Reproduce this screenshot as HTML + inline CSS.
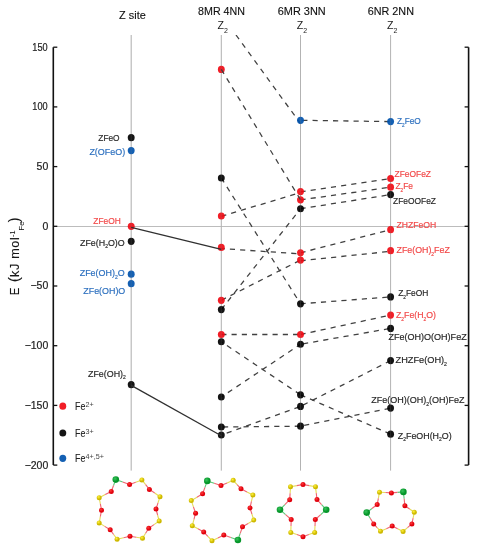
<!DOCTYPE html>
<html><head><meta charset="utf-8"><style>
html,body{margin:0;padding:0;background:#fff;}
body{width:480px;height:550px;overflow:hidden;}
svg{display:block;font-family:"Liberation Sans",Arial,sans-serif;}
</style></head><body>
<svg width="480" height="550" viewBox="0 0 480 550"><defs><clipPath id="pc"><rect x="0" y="35" width="480" height="436"/></clipPath><radialGradient id="gY" cx="0.38" cy="0.35" r="0.75"><stop offset="0" stop-color="#fff23a"/><stop offset="0.6" stop-color="#cdb800"/><stop offset="1" stop-color="#cdb800"/></radialGradient><radialGradient id="gR" cx="0.38" cy="0.35" r="0.75"><stop offset="0" stop-color="#ff3a3a"/><stop offset="0.6" stop-color="#e0000c"/><stop offset="1" stop-color="#e0000c"/></radialGradient><radialGradient id="gG" cx="0.38" cy="0.35" r="0.75"><stop offset="0" stop-color="#38c45c"/><stop offset="0.6" stop-color="#06962a"/><stop offset="1" stop-color="#06962a"/></radialGradient></defs><rect width="480" height="550" fill="#fff"/><line x1="53.3" y1="226.5" x2="468.6" y2="226.5" stroke="#bcbcbc" stroke-width="1"/><line x1="131.2" y1="35" x2="131.2" y2="470.6" stroke="#bcbcbc" stroke-width="1"/><line x1="221.3" y1="35" x2="221.3" y2="470.6" stroke="#bcbcbc" stroke-width="1"/><line x1="300.5" y1="35" x2="300.5" y2="470.6" stroke="#bcbcbc" stroke-width="1"/><line x1="390.6" y1="35" x2="390.6" y2="470.6" stroke="#bcbcbc" stroke-width="1"/><path d="M53.3 47.20 V465.10" stroke="#111" stroke-width="1.6" fill="none"/><path d="M468.6 47.20 V465.10" stroke="#111" stroke-width="1.6" fill="none"/><line x1="53.3" y1="47.20" x2="57.3" y2="47.20" stroke="#111" stroke-width="1.3"/><line x1="464.6" y1="47.20" x2="468.6" y2="47.20" stroke="#111" stroke-width="1.3"/><text x="47.6" y="50.65" text-anchor="end" font-size="10.5" fill="#222" stroke="#222" stroke-width="0.2" textLength="15.3" lengthAdjust="spacingAndGlyphs">150</text><line x1="53.3" y1="106.90" x2="57.3" y2="106.90" stroke="#111" stroke-width="1.3"/><line x1="464.6" y1="106.90" x2="468.6" y2="106.90" stroke="#111" stroke-width="1.3"/><text x="47.6" y="110.35" text-anchor="end" font-size="10.5" fill="#222" stroke="#222" stroke-width="0.2" textLength="15.3" lengthAdjust="spacingAndGlyphs">100</text><line x1="53.3" y1="166.60" x2="57.3" y2="166.60" stroke="#111" stroke-width="1.3"/><line x1="464.6" y1="166.60" x2="468.6" y2="166.60" stroke="#111" stroke-width="1.3"/><text x="48.3" y="170.05" text-anchor="end" font-size="10.5" fill="#222" stroke="#222" stroke-width="0.2">50</text><line x1="53.3" y1="226.30" x2="57.3" y2="226.30" stroke="#111" stroke-width="1.3"/><line x1="464.6" y1="226.30" x2="468.6" y2="226.30" stroke="#111" stroke-width="1.3"/><text x="48.3" y="229.75" text-anchor="end" font-size="10.5" fill="#222" stroke="#222" stroke-width="0.2">0</text><line x1="53.3" y1="286.00" x2="57.3" y2="286.00" stroke="#111" stroke-width="1.3"/><line x1="464.6" y1="286.00" x2="468.6" y2="286.00" stroke="#111" stroke-width="1.3"/><text x="48.3" y="289.45" text-anchor="end" font-size="10.5" fill="#222" stroke="#222" stroke-width="0.2">−50</text><line x1="53.3" y1="345.70" x2="57.3" y2="345.70" stroke="#111" stroke-width="1.3"/><line x1="464.6" y1="345.70" x2="468.6" y2="345.70" stroke="#111" stroke-width="1.3"/><text x="48.3" y="349.15" text-anchor="end" font-size="10.5" fill="#222" stroke="#222" stroke-width="0.2">−100</text><line x1="53.3" y1="405.40" x2="57.3" y2="405.40" stroke="#111" stroke-width="1.3"/><line x1="464.6" y1="405.40" x2="468.6" y2="405.40" stroke="#111" stroke-width="1.3"/><text x="48.3" y="408.85" text-anchor="end" font-size="10.5" fill="#222" stroke="#222" stroke-width="0.2">−150</text><line x1="53.3" y1="465.10" x2="57.3" y2="465.10" stroke="#111" stroke-width="1.3"/><line x1="464.6" y1="465.10" x2="468.6" y2="465.10" stroke="#111" stroke-width="1.3"/><text x="48.3" y="468.55" text-anchor="end" font-size="10.5" fill="#222" stroke="#222" stroke-width="0.2">−200</text><g clip-path="url(#pc)" stroke="#404040" stroke-width="1.25" fill="none"><g transform="scale(1,1.035)"><line x1="221.3" y1="14.348" x2="300.5" y2="119.420" stroke-dasharray="5.15 5.1" stroke-dashoffset="6.4"/><line x1="221.3" y1="171.981" x2="300.5" y2="293.527" stroke-dasharray="5.15 5.1" stroke-dashoffset="0"/><line x1="221.3" y1="208.986" x2="300.5" y2="186.087" stroke-dasharray="5.15 5.1" stroke-dashoffset="0"/><line x1="221.3" y1="240.097" x2="300.5" y2="245.314" stroke-dasharray="5.15 5.1" stroke-dashoffset="1.65"/><line x1="221.3" y1="290.145" x2="300.5" y2="251.304" stroke-dasharray="5.15 5.1" stroke-dashoffset="0"/><line x1="221.3" y1="299.130" x2="300.5" y2="201.691" stroke-dasharray="5.15 5.1" stroke-dashoffset="0"/><line x1="221.3" y1="323.188" x2="300.5" y2="323.188" stroke-dasharray="5.15 5.1" stroke-dashoffset="0"/><line x1="221.3" y1="330.193" x2="300.5" y2="381.449" stroke-dasharray="5.15 5.1" stroke-dashoffset="3.5"/><line x1="221.3" y1="383.575" x2="300.5" y2="332.609" stroke-dasharray="5.15 5.1" stroke-dashoffset="2.45"/><line x1="221.3" y1="412.560" x2="300.5" y2="411.787" stroke-dasharray="5.15 5.1" stroke-dashoffset="8.55"/><line x1="221.3" y1="420.290" x2="300.5" y2="392.657" stroke-dasharray="5.15 5.1" stroke-dashoffset="4.55"/><line x1="300.5" y1="116.232" x2="390.6" y2="117.488" stroke-dasharray="5.15 5.1" stroke-dashoffset="8.45"/><line x1="300.5" y1="185.314" x2="390.6" y2="172.464" stroke-dasharray="5.15 5.1" stroke-dashoffset="0"/><line x1="300.5" y1="193.140" x2="390.6" y2="180.870" stroke-dasharray="5.15 5.1" stroke-dashoffset="0"/><line x1="300.5" y1="201.691" x2="390.6" y2="188.019" stroke-dasharray="5.15 5.1" stroke-dashoffset="0"/><line x1="300.5" y1="244.251" x2="390.6" y2="221.932" stroke-dasharray="5.15 5.1" stroke-dashoffset="0"/><line x1="300.5" y1="251.981" x2="390.6" y2="242.802" stroke-dasharray="5.15 5.1" stroke-dashoffset="0"/><line x1="300.5" y1="293.527" x2="390.6" y2="286.860" stroke-dasharray="5.15 5.1" stroke-dashoffset="0"/><line x1="300.5" y1="323.188" x2="390.6" y2="304.444" stroke-dasharray="5.15 5.1" stroke-dashoffset="0"/><line x1="300.5" y1="332.609" x2="390.6" y2="317.295" stroke-dasharray="5.15 5.1" stroke-dashoffset="7.65"/><line x1="300.5" y1="381.449" x2="390.6" y2="419.517" stroke-dasharray="5.15 5.1" stroke-dashoffset="0"/><line x1="300.5" y1="392.657" x2="390.6" y2="348.406" stroke-dasharray="5.15 5.1" stroke-dashoffset="7.45"/><line x1="300.5" y1="411.787" x2="390.6" y2="394.300" stroke-dasharray="5.15 5.1" stroke-dashoffset="6.55"/></g></g><ellipse cx="131.2" cy="137.7" rx="3.45" ry="3.6" fill="#000000" fill-opacity="0.92"/><ellipse cx="131.2" cy="150.6" rx="3.45" ry="3.6" fill="#0052ad" fill-opacity="0.92"/><ellipse cx="131.2" cy="226.3" rx="3.45" ry="3.6" fill="#f00a14" fill-opacity="0.92"/><ellipse cx="131.2" cy="241.3" rx="3.45" ry="3.6" fill="#000000" fill-opacity="0.92"/><ellipse cx="131.2" cy="274.2" rx="3.45" ry="3.6" fill="#0052ad" fill-opacity="0.92"/><ellipse cx="131.2" cy="283.7" rx="3.45" ry="3.6" fill="#0052ad" fill-opacity="0.92"/><ellipse cx="131.2" cy="384.7" rx="3.45" ry="3.6" fill="#000000" fill-opacity="0.92"/><ellipse cx="221.3" cy="69.4" rx="3.45" ry="3.6" fill="#f00a14" fill-opacity="0.92"/><ellipse cx="221.3" cy="178" rx="3.45" ry="3.6" fill="#000000" fill-opacity="0.92"/><ellipse cx="221.3" cy="216" rx="3.45" ry="3.6" fill="#f00a14" fill-opacity="0.92"/><ellipse cx="221.3" cy="247.4" rx="3.45" ry="3.6" fill="#f00a14" fill-opacity="0.92"/><ellipse cx="221.3" cy="300.3" rx="3.45" ry="3.6" fill="#f00a14" fill-opacity="0.92"/><ellipse cx="221.3" cy="309.6" rx="3.45" ry="3.6" fill="#000000" fill-opacity="0.92"/><ellipse cx="221.3" cy="334.5" rx="3.45" ry="3.6" fill="#f00a14" fill-opacity="0.92"/><ellipse cx="221.3" cy="341.75" rx="3.45" ry="3.6" fill="#000000" fill-opacity="0.92"/><ellipse cx="221.3" cy="397" rx="3.45" ry="3.6" fill="#000000" fill-opacity="0.92"/><ellipse cx="221.3" cy="427" rx="3.45" ry="3.6" fill="#000000" fill-opacity="0.92"/><ellipse cx="221.3" cy="435" rx="3.45" ry="3.6" fill="#000000" fill-opacity="0.92"/><ellipse cx="300.5" cy="120.3" rx="3.45" ry="3.6" fill="#0052ad" fill-opacity="0.92"/><ellipse cx="300.5" cy="191.6" rx="3.45" ry="3.6" fill="#f00a14" fill-opacity="0.92"/><ellipse cx="300.5" cy="199.8" rx="3.45" ry="3.6" fill="#f00a14" fill-opacity="0.92"/><ellipse cx="300.5" cy="208.75" rx="3.45" ry="3.6" fill="#000000" fill-opacity="0.92"/><ellipse cx="300.5" cy="252.8" rx="3.45" ry="3.6" fill="#f00a14" fill-opacity="0.92"/><ellipse cx="300.5" cy="260.1" rx="3.45" ry="3.6" fill="#f00a14" fill-opacity="0.92"/><ellipse cx="300.5" cy="303.8" rx="3.45" ry="3.6" fill="#000000" fill-opacity="0.92"/><ellipse cx="300.5" cy="334.5" rx="3.45" ry="3.6" fill="#f00a14" fill-opacity="0.92"/><ellipse cx="300.5" cy="344.25" rx="3.45" ry="3.6" fill="#000000" fill-opacity="0.92"/><ellipse cx="300.5" cy="394.8" rx="3.45" ry="3.6" fill="#000000" fill-opacity="0.92"/><ellipse cx="300.5" cy="406.4" rx="3.45" ry="3.6" fill="#000000" fill-opacity="0.92"/><ellipse cx="300.5" cy="426.2" rx="3.45" ry="3.6" fill="#000000" fill-opacity="0.92"/><ellipse cx="390.6" cy="121.6" rx="3.45" ry="3.6" fill="#0052ad" fill-opacity="0.92"/><ellipse cx="390.6" cy="178.5" rx="3.45" ry="3.6" fill="#f00a14" fill-opacity="0.92"/><ellipse cx="390.6" cy="187.2" rx="3.45" ry="3.6" fill="#f00a14" fill-opacity="0.92"/><ellipse cx="390.6" cy="194.6" rx="3.45" ry="3.6" fill="#000000" fill-opacity="0.92"/><ellipse cx="390.6" cy="229.7" rx="3.45" ry="3.6" fill="#f00a14" fill-opacity="0.92"/><ellipse cx="390.6" cy="250.7" rx="3.45" ry="3.6" fill="#f00a14" fill-opacity="0.92"/><ellipse cx="390.6" cy="296.9" rx="3.45" ry="3.6" fill="#000000" fill-opacity="0.92"/><ellipse cx="390.6" cy="315.1" rx="3.45" ry="3.6" fill="#f00a14" fill-opacity="0.92"/><ellipse cx="390.6" cy="328.4" rx="3.45" ry="3.6" fill="#000000" fill-opacity="0.92"/><ellipse cx="390.6" cy="360.6" rx="3.45" ry="3.6" fill="#000000" fill-opacity="0.92"/><ellipse cx="390.6" cy="408.1" rx="3.45" ry="3.6" fill="#000000" fill-opacity="0.92"/><ellipse cx="390.6" cy="434.2" rx="3.45" ry="3.6" fill="#000000" fill-opacity="0.92"/><line x1="131.2" y1="35" x2="131.2" y2="470.6" stroke="#909090" stroke-width="0.8" opacity="0.25"/><line x1="221.3" y1="35" x2="221.3" y2="470.6" stroke="#909090" stroke-width="0.8" opacity="0.25"/><line x1="300.5" y1="35" x2="300.5" y2="470.6" stroke="#909090" stroke-width="0.8" opacity="0.25"/><line x1="390.6" y1="35" x2="390.6" y2="470.6" stroke="#909090" stroke-width="0.8" opacity="0.25"/><g clip-path="url(#pc)" stroke="#404040" stroke-width="1.25" fill="none"><g transform="scale(1,1.035)"><line x1="221.3" y1="67.053" x2="300.5" y2="193.043" stroke-dasharray="5.15 5.1" stroke-dashoffset="0"/></g><line x1="131.2" y1="227.4" x2="221.3" y2="249.3" stroke="#303030"/><line x1="131.2" y1="385.4" x2="221.3" y2="435.7" stroke="#303030"/></g><text x="98.3" y="141.4" font-size="9.8" fill="#262626" stroke="#262626" stroke-width="0.18" textLength="21.3" lengthAdjust="spacingAndGlyphs"><tspan>ZFeO</tspan></text><text x="89.4" y="154.9" font-size="9.8" fill="#2a6ebe" stroke="#2a6ebe" stroke-width="0.18" textLength="35.8" lengthAdjust="spacingAndGlyphs"><tspan>Z(OFeO)</tspan></text><text x="93.3" y="224.2" font-size="9.8" fill="#f24646" stroke="#f24646" stroke-width="0.18" textLength="27.5" lengthAdjust="spacingAndGlyphs"><tspan>ZFeOH</tspan></text><text x="80.0" y="245.6" font-size="9.8" fill="#262626" stroke="#262626" stroke-width="0.18" textLength="44.7" lengthAdjust="spacingAndGlyphs"><tspan>ZFe(H</tspan><tspan dy="2.70" font-size="5.49">2</tspan><tspan dy="-2.70">O)O</tspan></text><text x="79.7" y="276.1" font-size="9.8" fill="#2a6ebe" stroke="#2a6ebe" stroke-width="0.18" textLength="45.0" lengthAdjust="spacingAndGlyphs"><tspan>ZFe(OH)</tspan><tspan dy="2.70" font-size="5.49">2</tspan><tspan dy="-2.70">O</tspan></text><text x="83.3" y="293.85" font-size="9.8" fill="#2a6ebe" stroke="#2a6ebe" stroke-width="0.18" textLength="42.0" lengthAdjust="spacingAndGlyphs"><tspan>ZFe(OH)O</tspan></text><text x="88.0" y="376.75" font-size="9.8" fill="#262626" stroke="#262626" stroke-width="0.18" textLength="37.8" lengthAdjust="spacingAndGlyphs"><tspan>ZFe(OH)</tspan><tspan dy="2.70" font-size="5.49">2</tspan></text><text x="397.0" y="124.15" font-size="9.8" fill="#2a6ebe" stroke="#2a6ebe" stroke-width="0.18" textLength="23.8" lengthAdjust="spacingAndGlyphs"><tspan>Z</tspan><tspan dy="2.70" font-size="5.49">2</tspan><tspan dy="-2.70">FeO</tspan></text><text x="394.5" y="176.55" font-size="9.8" fill="#f24646" stroke="#f24646" stroke-width="0.18" textLength="36.5" lengthAdjust="spacingAndGlyphs"><tspan>ZFeOFeZ</tspan></text><text x="395.5" y="188.95" font-size="9.8" fill="#f24646" stroke="#f24646" stroke-width="0.18" textLength="17.5" lengthAdjust="spacingAndGlyphs"><tspan>Z</tspan><tspan dy="2.70" font-size="5.49">2</tspan><tspan dy="-2.70">Fe</tspan></text><text x="393.0" y="204.1" font-size="9.8" fill="#262626" stroke="#262626" stroke-width="0.18" textLength="43.0" lengthAdjust="spacingAndGlyphs"><tspan>ZFeOOFeZ</tspan></text><text x="396.5" y="227.8" font-size="9.8" fill="#f24646" stroke="#f24646" stroke-width="0.18" textLength="39.8" lengthAdjust="spacingAndGlyphs"><tspan>ZHZFeOH</tspan></text><text x="396.5" y="252.85" font-size="9.8" fill="#f24646" stroke="#f24646" stroke-width="0.18" textLength="53.3" lengthAdjust="spacingAndGlyphs"><tspan>ZFe(OH)</tspan><tspan dy="2.70" font-size="5.49">2</tspan><tspan dy="-2.70">FeZ</tspan></text><text x="398.2" y="296.0" font-size="9.8" fill="#262626" stroke="#262626" stroke-width="0.18" textLength="30.2" lengthAdjust="spacingAndGlyphs"><tspan>Z</tspan><tspan dy="2.70" font-size="5.49">2</tspan><tspan dy="-2.70">FeOH</tspan></text><text x="396.0" y="318.1" font-size="9.8" fill="#f24646" stroke="#f24646" stroke-width="0.18" textLength="39.9" lengthAdjust="spacingAndGlyphs"><tspan>Z</tspan><tspan dy="2.70" font-size="5.49">2</tspan><tspan dy="-2.70">Fe(H</tspan><tspan dy="2.70" font-size="5.49">2</tspan><tspan dy="-2.70">O)</tspan></text><text x="388.4" y="340.15" font-size="9.8" fill="#262626" stroke="#262626" stroke-width="0.18" textLength="78.3" lengthAdjust="spacingAndGlyphs"><tspan>ZFe(OH)O(OH)FeZ</tspan></text><text x="395.5" y="362.8" font-size="9.8" fill="#262626" stroke="#262626" stroke-width="0.18" textLength="51.5" lengthAdjust="spacingAndGlyphs"><tspan>ZHZFe(OH)</tspan><tspan dy="2.70" font-size="5.49">2</tspan></text><text x="371.2" y="402.8" font-size="9.8" fill="#262626" stroke="#262626" stroke-width="0.18" textLength="93.3" lengthAdjust="spacingAndGlyphs"><tspan>ZFe(OH)(OH)</tspan><tspan dy="2.70" font-size="5.49">2</tspan><tspan dy="-2.70">(OH)FeZ</tspan></text><text x="397.8" y="438.6" font-size="9.8" fill="#262626" stroke="#262626" stroke-width="0.18" textLength="53.9" lengthAdjust="spacingAndGlyphs"><tspan>Z</tspan><tspan dy="2.70" font-size="5.49">2</tspan><tspan dy="-2.70">FeOH(H</tspan><tspan dy="2.70" font-size="5.49">2</tspan><tspan dy="-2.70">O)</tspan></text><text x="132.4" y="19.3" text-anchor="middle" font-size="10.3" fill="#111" stroke="#111" stroke-width="0.12" textLength="26.7" lengthAdjust="spacingAndGlyphs">Z site</text><text x="198.1" y="14.6" font-size="10.3" fill="#111" stroke="#111" stroke-width="0.12" textLength="46.9" lengthAdjust="spacingAndGlyphs">8MR 4NN</text><text x="217.6" y="28.7" font-size="10.6" fill="#1a1a1a">Z<tspan font-size="7" dy="4.2">2</tspan></text><text x="277.7" y="14.6" font-size="10.3" fill="#111" stroke="#111" stroke-width="0.12" textLength="48.0" lengthAdjust="spacingAndGlyphs">6MR 3NN</text><text x="296.8" y="28.7" font-size="10.6" fill="#1a1a1a">Z<tspan font-size="7" dy="4.2">2</tspan></text><text x="367.7" y="14.6" font-size="10.3" fill="#111" stroke="#111" stroke-width="0.12" textLength="46.3" lengthAdjust="spacingAndGlyphs">6NR 2NN</text><text x="386.9" y="28.7" font-size="10.6" fill="#1a1a1a">Z<tspan font-size="7" dy="4.2">2</tspan></text><g transform="translate(19.3,294.6) rotate(-90)" fill="#161616" stroke="#161616" stroke-width="0.12"><text x="-0.7" y="0" font-size="12.6" textLength="7.6" lengthAdjust="spacingAndGlyphs">E</text><text x="12.6" y="0" font-size="14.2">(</text><text x="17.5" y="0" font-size="12.6" textLength="40.0" lengthAdjust="spacing">kJ mol</text><text x="57.6" y="-4.4" font-size="7.4" stroke-width="0.05">-1</text><text x="64.2" y="4.3" font-size="7.6" stroke-width="0.05">Fe</text><text x="72.4" y="0" font-size="14.2">)</text></g><ellipse cx="62.8" cy="406.2" rx="3.45" ry="3.6" fill="#f00a14" fill-opacity="0.92"/><text x="75" y="409.7" font-size="11" fill="#222" stroke="#222" stroke-width="0.12" textLength="10.3" lengthAdjust="spacingAndGlyphs">Fe</text><text x="85.4" y="407.1" font-size="7.6" fill="#444" textLength="8.2" lengthAdjust="spacingAndGlyphs">2+</text><ellipse cx="62.8" cy="433.0" rx="3.45" ry="3.6" fill="#000000" fill-opacity="0.92"/><text x="75" y="436.5" font-size="11" fill="#222" stroke="#222" stroke-width="0.12" textLength="10.3" lengthAdjust="spacingAndGlyphs">Fe</text><text x="85.4" y="433.9" font-size="7.6" fill="#444" textLength="8.2" lengthAdjust="spacingAndGlyphs">3+</text><ellipse cx="62.8" cy="458.3" rx="3.45" ry="3.6" fill="#0052ad" fill-opacity="0.92"/><text x="75" y="461.8" font-size="11" fill="#222" stroke="#222" stroke-width="0.12" textLength="10.3" lengthAdjust="spacingAndGlyphs">Fe</text><text x="85.4" y="459.2" font-size="7.6" fill="#444" textLength="18.5" lengthAdjust="spacingAndGlyphs">4+,5+</text><line x1="115.8" y1="479.6" x2="122.70" y2="482.05" stroke="#5cc878" stroke-width="1.1"/><line x1="122.70" y1="482.05" x2="129.6" y2="484.5" stroke="#f06470" stroke-width="1.1"/><line x1="141.9" y1="479.9" x2="135.75" y2="482.20" stroke="#e6dc58" stroke-width="1.1"/><line x1="135.75" y1="482.20" x2="129.6" y2="484.5" stroke="#f06470" stroke-width="1.1"/><line x1="141.9" y1="479.9" x2="145.65" y2="484.65" stroke="#e6dc58" stroke-width="1.1"/><line x1="145.65" y1="484.65" x2="149.4" y2="489.4" stroke="#f06470" stroke-width="1.1"/><line x1="160.0" y1="496.7" x2="154.70" y2="493.05" stroke="#e6dc58" stroke-width="1.1"/><line x1="154.70" y1="493.05" x2="149.4" y2="489.4" stroke="#f06470" stroke-width="1.1"/><line x1="160.0" y1="496.7" x2="158.00" y2="502.85" stroke="#e6dc58" stroke-width="1.1"/><line x1="158.00" y1="502.85" x2="156.0" y2="509.0" stroke="#f06470" stroke-width="1.1"/><line x1="159.2" y1="521.0" x2="157.60" y2="515.00" stroke="#e6dc58" stroke-width="1.1"/><line x1="157.60" y1="515.00" x2="156.0" y2="509.0" stroke="#f06470" stroke-width="1.1"/><line x1="159.2" y1="521.0" x2="153.97" y2="524.65" stroke="#e6dc58" stroke-width="1.1"/><line x1="153.97" y1="524.65" x2="148.75" y2="528.3" stroke="#f06470" stroke-width="1.1"/><line x1="142.5" y1="538.3" x2="145.62" y2="533.30" stroke="#e6dc58" stroke-width="1.1"/><line x1="145.62" y1="533.30" x2="148.75" y2="528.3" stroke="#f06470" stroke-width="1.1"/><line x1="142.5" y1="538.3" x2="136.25" y2="537.27" stroke="#e6dc58" stroke-width="1.1"/><line x1="136.25" y1="537.27" x2="130.0" y2="536.25" stroke="#f06470" stroke-width="1.1"/><line x1="117.1" y1="539.2" x2="123.55" y2="537.73" stroke="#e6dc58" stroke-width="1.1"/><line x1="123.55" y1="537.73" x2="130.0" y2="536.25" stroke="#f06470" stroke-width="1.1"/><line x1="117.1" y1="539.2" x2="113.65" y2="534.50" stroke="#e6dc58" stroke-width="1.1"/><line x1="113.65" y1="534.50" x2="110.2" y2="529.8" stroke="#f06470" stroke-width="1.1"/><line x1="99.2" y1="522.9" x2="104.70" y2="526.35" stroke="#e6dc58" stroke-width="1.1"/><line x1="104.70" y1="526.35" x2="110.2" y2="529.8" stroke="#f06470" stroke-width="1.1"/><line x1="99.2" y1="522.9" x2="100.35" y2="516.55" stroke="#e6dc58" stroke-width="1.1"/><line x1="100.35" y1="516.55" x2="101.5" y2="510.2" stroke="#f06470" stroke-width="1.1"/><line x1="99.2" y1="497.7" x2="100.35" y2="503.95" stroke="#e6dc58" stroke-width="1.1"/><line x1="100.35" y1="503.95" x2="101.5" y2="510.2" stroke="#f06470" stroke-width="1.1"/><line x1="99.2" y1="497.7" x2="105.22" y2="494.60" stroke="#e6dc58" stroke-width="1.1"/><line x1="105.22" y1="494.60" x2="111.25" y2="491.5" stroke="#f06470" stroke-width="1.1"/><line x1="115.8" y1="479.6" x2="113.53" y2="485.55" stroke="#5cc878" stroke-width="1.1"/><line x1="113.53" y1="485.55" x2="111.25" y2="491.5" stroke="#f06470" stroke-width="1.1"/><circle cx="115.8" cy="479.6" r="3.3" fill="url(#gG)"/><circle cx="141.9" cy="479.9" r="2.5" fill="url(#gY)"/><circle cx="160.0" cy="496.7" r="2.5" fill="url(#gY)"/><circle cx="159.2" cy="521.0" r="2.5" fill="url(#gY)"/><circle cx="142.5" cy="538.3" r="2.5" fill="url(#gY)"/><circle cx="117.1" cy="539.2" r="2.5" fill="url(#gY)"/><circle cx="99.2" cy="522.9" r="2.5" fill="url(#gY)"/><circle cx="99.2" cy="497.7" r="2.5" fill="url(#gY)"/><circle cx="129.6" cy="484.5" r="2.5" fill="url(#gR)"/><circle cx="149.4" cy="489.4" r="2.5" fill="url(#gR)"/><circle cx="156.0" cy="509.0" r="2.5" fill="url(#gR)"/><circle cx="148.75" cy="528.3" r="2.5" fill="url(#gR)"/><circle cx="130.0" cy="536.25" r="2.5" fill="url(#gR)"/><circle cx="110.2" cy="529.8" r="2.5" fill="url(#gR)"/><circle cx="101.5" cy="510.2" r="2.5" fill="url(#gR)"/><circle cx="111.25" cy="491.5" r="2.5" fill="url(#gR)"/><line x1="207.3" y1="480.9" x2="214.15" y2="483.25" stroke="#5cc878" stroke-width="1.1"/><line x1="214.15" y1="483.25" x2="221.0" y2="485.6" stroke="#f06470" stroke-width="1.1"/><line x1="233.2" y1="480.3" x2="227.10" y2="482.95" stroke="#e6dc58" stroke-width="1.1"/><line x1="227.10" y1="482.95" x2="221.0" y2="485.6" stroke="#f06470" stroke-width="1.1"/><line x1="233.2" y1="480.3" x2="237.10" y2="484.55" stroke="#e6dc58" stroke-width="1.1"/><line x1="237.10" y1="484.55" x2="241.0" y2="488.8" stroke="#f06470" stroke-width="1.1"/><line x1="252.9" y1="495.0" x2="246.95" y2="491.90" stroke="#e6dc58" stroke-width="1.1"/><line x1="246.95" y1="491.90" x2="241.0" y2="488.8" stroke="#f06470" stroke-width="1.1"/><line x1="252.9" y1="495.0" x2="251.45" y2="501.45" stroke="#e6dc58" stroke-width="1.1"/><line x1="251.45" y1="501.45" x2="250.0" y2="507.9" stroke="#f06470" stroke-width="1.1"/><line x1="253.8" y1="520.1" x2="251.90" y2="514.00" stroke="#e6dc58" stroke-width="1.1"/><line x1="251.90" y1="514.00" x2="250.0" y2="507.9" stroke="#f06470" stroke-width="1.1"/><line x1="253.8" y1="520.1" x2="248.15" y2="523.45" stroke="#e6dc58" stroke-width="1.1"/><line x1="248.15" y1="523.45" x2="242.5" y2="526.8" stroke="#f06470" stroke-width="1.1"/><line x1="237.9" y1="540.0" x2="240.20" y2="533.40" stroke="#5cc878" stroke-width="1.1"/><line x1="240.20" y1="533.40" x2="242.5" y2="526.8" stroke="#f06470" stroke-width="1.1"/><line x1="237.9" y1="540.0" x2="230.85" y2="537.55" stroke="#5cc878" stroke-width="1.1"/><line x1="230.85" y1="537.55" x2="223.8" y2="535.1" stroke="#f06470" stroke-width="1.1"/><line x1="212.0" y1="540.7" x2="217.90" y2="537.90" stroke="#e6dc58" stroke-width="1.1"/><line x1="217.90" y1="537.90" x2="223.8" y2="535.1" stroke="#f06470" stroke-width="1.1"/><line x1="212.0" y1="540.7" x2="207.85" y2="536.30" stroke="#e6dc58" stroke-width="1.1"/><line x1="207.85" y1="536.30" x2="203.7" y2="531.9" stroke="#f06470" stroke-width="1.1"/><line x1="192.3" y1="525.7" x2="198.00" y2="528.80" stroke="#e6dc58" stroke-width="1.1"/><line x1="198.00" y1="528.80" x2="203.7" y2="531.9" stroke="#f06470" stroke-width="1.1"/><line x1="192.3" y1="525.7" x2="193.95" y2="519.45" stroke="#e6dc58" stroke-width="1.1"/><line x1="193.95" y1="519.45" x2="195.6" y2="513.2" stroke="#f06470" stroke-width="1.1"/><line x1="191.3" y1="500.6" x2="193.45" y2="506.90" stroke="#e6dc58" stroke-width="1.1"/><line x1="193.45" y1="506.90" x2="195.6" y2="513.2" stroke="#f06470" stroke-width="1.1"/><line x1="191.3" y1="500.6" x2="196.95" y2="497.20" stroke="#e6dc58" stroke-width="1.1"/><line x1="196.95" y1="497.20" x2="202.6" y2="493.8" stroke="#f06470" stroke-width="1.1"/><line x1="207.3" y1="480.9" x2="204.95" y2="487.35" stroke="#5cc878" stroke-width="1.1"/><line x1="204.95" y1="487.35" x2="202.6" y2="493.8" stroke="#f06470" stroke-width="1.1"/><circle cx="207.3" cy="480.9" r="3.3" fill="url(#gG)"/><circle cx="233.2" cy="480.3" r="2.5" fill="url(#gY)"/><circle cx="252.9" cy="495.0" r="2.5" fill="url(#gY)"/><circle cx="253.8" cy="520.1" r="2.5" fill="url(#gY)"/><circle cx="237.9" cy="540.0" r="3.3" fill="url(#gG)"/><circle cx="212.0" cy="540.7" r="2.5" fill="url(#gY)"/><circle cx="192.3" cy="525.7" r="2.5" fill="url(#gY)"/><circle cx="191.3" cy="500.6" r="2.5" fill="url(#gY)"/><circle cx="221.0" cy="485.6" r="2.5" fill="url(#gR)"/><circle cx="241.0" cy="488.8" r="2.5" fill="url(#gR)"/><circle cx="250.0" cy="507.9" r="2.5" fill="url(#gR)"/><circle cx="242.5" cy="526.8" r="2.5" fill="url(#gR)"/><circle cx="223.8" cy="535.1" r="2.5" fill="url(#gR)"/><circle cx="203.7" cy="531.9" r="2.5" fill="url(#gR)"/><circle cx="195.6" cy="513.2" r="2.5" fill="url(#gR)"/><circle cx="202.6" cy="493.8" r="2.5" fill="url(#gR)"/><line x1="290.5" y1="486.7" x2="296.75" y2="485.60" stroke="#e6dc58" stroke-width="1.1"/><line x1="296.75" y1="485.60" x2="303.0" y2="484.5" stroke="#f06470" stroke-width="1.1"/><line x1="315.5" y1="486.7" x2="309.25" y2="485.60" stroke="#e6dc58" stroke-width="1.1"/><line x1="309.25" y1="485.60" x2="303.0" y2="484.5" stroke="#f06470" stroke-width="1.1"/><line x1="315.5" y1="486.7" x2="316.25" y2="493.10" stroke="#e6dc58" stroke-width="1.1"/><line x1="316.25" y1="493.10" x2="317.0" y2="499.5" stroke="#f06470" stroke-width="1.1"/><line x1="326.2" y1="509.7" x2="321.60" y2="504.60" stroke="#5cc878" stroke-width="1.1"/><line x1="321.60" y1="504.60" x2="317.0" y2="499.5" stroke="#f06470" stroke-width="1.1"/><line x1="326.2" y1="509.7" x2="320.75" y2="514.60" stroke="#5cc878" stroke-width="1.1"/><line x1="320.75" y1="514.60" x2="315.3" y2="519.5" stroke="#f06470" stroke-width="1.1"/><line x1="314.7" y1="532.5" x2="315.00" y2="526.00" stroke="#e6dc58" stroke-width="1.1"/><line x1="315.00" y1="526.00" x2="315.3" y2="519.5" stroke="#f06470" stroke-width="1.1"/><line x1="314.7" y1="532.5" x2="308.85" y2="534.60" stroke="#e6dc58" stroke-width="1.1"/><line x1="308.85" y1="534.60" x2="303.0" y2="536.7" stroke="#f06470" stroke-width="1.1"/><line x1="290.8" y1="532.5" x2="296.90" y2="534.60" stroke="#e6dc58" stroke-width="1.1"/><line x1="296.90" y1="534.60" x2="303.0" y2="536.7" stroke="#f06470" stroke-width="1.1"/><line x1="290.8" y1="532.5" x2="291.00" y2="526.00" stroke="#e6dc58" stroke-width="1.1"/><line x1="291.00" y1="526.00" x2="291.2" y2="519.5" stroke="#f06470" stroke-width="1.1"/><line x1="280.0" y1="509.7" x2="285.60" y2="514.60" stroke="#5cc878" stroke-width="1.1"/><line x1="285.60" y1="514.60" x2="291.2" y2="519.5" stroke="#f06470" stroke-width="1.1"/><line x1="280.0" y1="509.7" x2="284.85" y2="504.70" stroke="#5cc878" stroke-width="1.1"/><line x1="284.85" y1="504.70" x2="289.7" y2="499.7" stroke="#f06470" stroke-width="1.1"/><line x1="290.5" y1="486.7" x2="290.10" y2="493.20" stroke="#e6dc58" stroke-width="1.1"/><line x1="290.10" y1="493.20" x2="289.7" y2="499.7" stroke="#f06470" stroke-width="1.1"/><circle cx="290.5" cy="486.7" r="2.5" fill="url(#gY)"/><circle cx="315.5" cy="486.7" r="2.5" fill="url(#gY)"/><circle cx="326.2" cy="509.7" r="3.3" fill="url(#gG)"/><circle cx="314.7" cy="532.5" r="2.5" fill="url(#gY)"/><circle cx="290.8" cy="532.5" r="2.5" fill="url(#gY)"/><circle cx="280.0" cy="509.7" r="3.3" fill="url(#gG)"/><circle cx="303.0" cy="484.5" r="2.5" fill="url(#gR)"/><circle cx="317.0" cy="499.5" r="2.5" fill="url(#gR)"/><circle cx="315.3" cy="519.5" r="2.5" fill="url(#gR)"/><circle cx="303.0" cy="536.7" r="2.5" fill="url(#gR)"/><circle cx="291.2" cy="519.5" r="2.5" fill="url(#gR)"/><circle cx="289.7" cy="499.7" r="2.5" fill="url(#gR)"/><line x1="379.5" y1="492.2" x2="385.45" y2="492.55" stroke="#e6dc58" stroke-width="1.1"/><line x1="385.45" y1="492.55" x2="391.4" y2="492.9" stroke="#f06470" stroke-width="1.1"/><line x1="403.4" y1="491.9" x2="397.40" y2="492.40" stroke="#5cc878" stroke-width="1.1"/><line x1="397.40" y1="492.40" x2="391.4" y2="492.9" stroke="#f06470" stroke-width="1.1"/><line x1="403.4" y1="491.9" x2="404.15" y2="498.80" stroke="#5cc878" stroke-width="1.1"/><line x1="404.15" y1="498.80" x2="404.9" y2="505.7" stroke="#f06470" stroke-width="1.1"/><line x1="414.3" y1="512.3" x2="409.60" y2="509.00" stroke="#e6dc58" stroke-width="1.1"/><line x1="409.60" y1="509.00" x2="404.9" y2="505.7" stroke="#f06470" stroke-width="1.1"/><line x1="414.3" y1="512.3" x2="413.10" y2="518.10" stroke="#e6dc58" stroke-width="1.1"/><line x1="413.10" y1="518.10" x2="411.9" y2="523.9" stroke="#f06470" stroke-width="1.1"/><line x1="403.1" y1="531.5" x2="407.50" y2="527.70" stroke="#e6dc58" stroke-width="1.1"/><line x1="407.50" y1="527.70" x2="411.9" y2="523.9" stroke="#f06470" stroke-width="1.1"/><line x1="403.1" y1="531.5" x2="397.65" y2="528.80" stroke="#e6dc58" stroke-width="1.1"/><line x1="397.65" y1="528.80" x2="392.2" y2="526.1" stroke="#f06470" stroke-width="1.1"/><line x1="380.5" y1="531.2" x2="386.35" y2="528.65" stroke="#e6dc58" stroke-width="1.1"/><line x1="386.35" y1="528.65" x2="392.2" y2="526.1" stroke="#f06470" stroke-width="1.1"/><line x1="380.5" y1="531.2" x2="377.10" y2="527.55" stroke="#e6dc58" stroke-width="1.1"/><line x1="377.10" y1="527.55" x2="373.7" y2="523.9" stroke="#f06470" stroke-width="1.1"/><line x1="366.7" y1="512.6" x2="370.20" y2="518.25" stroke="#5cc878" stroke-width="1.1"/><line x1="370.20" y1="518.25" x2="373.7" y2="523.9" stroke="#f06470" stroke-width="1.1"/><line x1="366.7" y1="512.6" x2="371.95" y2="508.55" stroke="#5cc878" stroke-width="1.1"/><line x1="371.95" y1="508.55" x2="377.2" y2="504.5" stroke="#f06470" stroke-width="1.1"/><line x1="379.5" y1="492.2" x2="378.35" y2="498.35" stroke="#e6dc58" stroke-width="1.1"/><line x1="378.35" y1="498.35" x2="377.2" y2="504.5" stroke="#f06470" stroke-width="1.1"/><circle cx="379.5" cy="492.2" r="2.5" fill="url(#gY)"/><circle cx="403.4" cy="491.9" r="3.3" fill="url(#gG)"/><circle cx="414.3" cy="512.3" r="2.5" fill="url(#gY)"/><circle cx="403.1" cy="531.5" r="2.5" fill="url(#gY)"/><circle cx="380.5" cy="531.2" r="2.5" fill="url(#gY)"/><circle cx="366.7" cy="512.6" r="3.3" fill="url(#gG)"/><circle cx="391.4" cy="492.9" r="2.5" fill="url(#gR)"/><circle cx="404.9" cy="505.7" r="2.5" fill="url(#gR)"/><circle cx="411.9" cy="523.9" r="2.5" fill="url(#gR)"/><circle cx="392.2" cy="526.1" r="2.5" fill="url(#gR)"/><circle cx="373.7" cy="523.9" r="2.5" fill="url(#gR)"/><circle cx="377.2" cy="504.5" r="2.5" fill="url(#gR)"/></svg>
</body></html>
